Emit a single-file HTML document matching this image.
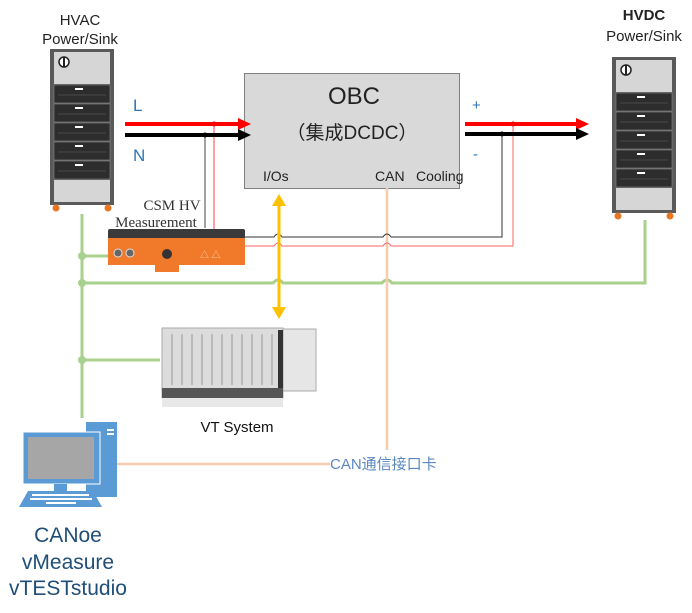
<!DOCTYPE html>
<html><head><meta charset="utf-8"><style>
html,body{margin:0;padding:0;background:#fff;}
svg{display:block;}
text{font-family:"Liberation Sans","Noto Sans CJK SC",sans-serif;}
</style></head><body>
<svg width="692" height="613" viewBox="0 0 692 613" xmlns="http://www.w3.org/2000/svg">
<defs>
<g id="rack">
  <rect x="0" y="0" width="64" height="156" fill="#5a5a5a"/>
  <rect x="4" y="3" width="56" height="32" fill="#d6d6d6"/>
  <circle cx="14" cy="13" r="5" fill="#fff" stroke="#222" stroke-width="1.5"/>
  <line x1="14" y1="8" x2="14" y2="18" stroke="#222" stroke-width="2"/>
  <g fill="#2d2d2d" stroke="#888" stroke-width="0.6">
    <rect x="4" y="36" width="56" height="18"/>
    <rect x="4" y="55" width="56" height="18"/>
    <rect x="4" y="74" width="56" height="18"/>
    <rect x="4" y="93" width="56" height="18"/>
    <rect x="4" y="112" width="56" height="18"/>
  </g>
  <g fill="#fff"><rect x="25" y="39" width="8" height="2"/><rect x="25" y="58" width="8" height="2"/><rect x="25" y="77" width="8" height="2"/><rect x="25" y="96" width="8" height="2"/><rect x="25" y="115" width="8" height="2"/></g>
  <g stroke="#666" stroke-width="0.6"><line x1="8" y1="46" x2="56" y2="46"/><line x1="8" y1="65" x2="56" y2="65"/><line x1="8" y1="84" x2="56" y2="84"/><line x1="8" y1="103" x2="56" y2="103"/><line x1="8" y1="122" x2="56" y2="122"/></g>
  <rect x="4" y="131" width="56" height="22" fill="#d6d6d6"/>
  <circle cx="6" cy="159" r="3.5" fill="#e87722"/>
  <circle cx="58" cy="159" r="3.5" fill="#e87722"/>
</g>
</defs>

<!-- HVAC -->
<text x="80" y="25" font-size="15" text-anchor="middle" fill="#222">HVAC</text>
<text x="80" y="44" font-size="15" text-anchor="middle" fill="#222">Power/Sink</text>
<use href="#rack" x="50" y="49"/>

<!-- HVDC -->
<text x="644" y="20" font-size="15" font-weight="bold" text-anchor="middle" fill="#222">HVDC</text>
<text x="644" y="41" font-size="15" text-anchor="middle" fill="#222">Power/Sink</text>
<use href="#rack" x="612" y="57"/>

<!-- OBC -->
<rect x="244.5" y="73.5" width="215" height="115" fill="#d9d9d9" stroke="#808080"/>
<text x="354" y="104" font-size="24" text-anchor="middle" fill="#222">OBC</text>
<text x="352" y="139" font-size="19" text-anchor="middle" fill="#222">（集成DCDC）</text>
<text x="263" y="181" font-size="14" fill="#222">I/Os</text>
<text x="375" y="181" font-size="14" fill="#222">CAN</text>
<text x="416" y="181" font-size="14" fill="#222">Cooling</text>

<!-- green lines -->
<g stroke="#a9d18e" stroke-width="3" fill="none">
  <line x1="82" y1="214" x2="82" y2="418"/>
  <line x1="82" y1="256" x2="108" y2="256"/>
  <path d="M82 283 H273 q5 -6 10 0 H382 q5 -6 10 0 H645 V220"/>
  <line x1="82" y1="360" x2="160" y2="360"/>
</g>
<g fill="#a9d18e"><circle cx="82" cy="256" r="4"/><circle cx="82" cy="283" r="4"/><circle cx="82" cy="360" r="4"/></g>

<!-- CAN line -->
<g stroke="#f8cbad" stroke-width="2.5" fill="none">
  <line x1="387" y1="188" x2="387" y2="450"/>
  <line x1="117" y1="464" x2="330" y2="464"/>
</g>
<text x="330" y="469" font-size="15" fill="#5b87c0">CAN通信接口卡</text>

<!-- measurement wires -->
<g fill="none" stroke-width="1">
  <path d="M205 135 V228" stroke="#444"/>
  <path d="M214 124 V230" stroke="#ff4040"/>
  <path d="M244 237 H274 q4 -6 8 0 H383 q4 -6 8 0 H502 V134" stroke="#333"/>
  <path d="M244 246 H274 q4 -6 8 0 H383 q4 -6 8 0 H513 V124" stroke="#ff6060"/>
</g>

<!-- L N power -->
<line x1="125" y1="124" x2="240" y2="124" stroke="#ff0000" stroke-width="4"/>
<polygon points="238,118 251,124 238,130" fill="#ff0000"/>
<line x1="125" y1="135" x2="240" y2="135" stroke="#000" stroke-width="4"/>
<polygon points="238,129 251,135 238,141" fill="#000"/>
<circle cx="214" cy="124" r="2.5" fill="#ff0000"/>
<circle cx="205" cy="135" r="2.5" fill="#000"/>
<text x="133" y="111" font-size="17" fill="#2e75b6">L</text>
<text x="133" y="161" font-size="17" fill="#2e75b6">N</text>

<!-- DC -->
<line x1="465" y1="124" x2="578" y2="124" stroke="#ff0000" stroke-width="4"/>
<polygon points="576,118 589,124 576,130" fill="#ff0000"/>
<line x1="465" y1="134" x2="578" y2="134" stroke="#000" stroke-width="4"/>
<polygon points="576,128 589,134 576,140" fill="#000"/>
<circle cx="513" cy="124" r="2.5" fill="#ff0000"/>
<circle cx="502" cy="134" r="2.5" fill="#000"/>
<text x="472" y="110" font-size="15" fill="#2e75b6">+</text>
<text x="473" y="159" font-size="15" fill="#2e75b6">-</text>

<!-- CSM -->
<text x="172" y="210" font-size="15" text-anchor="middle" fill="#333" style="font-family:'Liberation Serif',serif">CSM HV</text>
<text x="156" y="227" font-size="15" text-anchor="middle" fill="#333" style="font-family:'Liberation Serif',serif">Measurement</text>
<rect x="108" y="229" width="137" height="10" rx="2" fill="#3a3a3a"/>
<rect x="108" y="238" width="137" height="27" fill="#f07a2a"/>
<rect x="155" y="240" width="24" height="32" fill="#f07a2a"/>
<circle cx="167" cy="254" r="5" fill="#333"/>
<circle cx="118" cy="253" r="4" fill="#666" stroke="#ddd"/>
<circle cx="130" cy="253" r="4" fill="#666" stroke="#ddd"/>
<text x="200" y="258" font-size="9" fill="#fbd3b0">△ △</text>

<!-- yellow -->
<line x1="279" y1="203" x2="279" y2="310" stroke="#ffc000" stroke-width="3"/>
<polygon points="272,206 279,194 286,206" fill="#ffc000"/>
<polygon points="272,307 279,319 286,307" fill="#ffc000"/>

<!-- VT System -->
<rect x="162" y="328" width="121" height="70" fill="#dcdcdc" stroke="#aaa"/>
<rect x="283" y="329" width="33" height="62" fill="#e6e6e6" stroke="#aaa"/>
<rect x="278" y="330" width="5" height="60" fill="#333"/>
<g stroke="#888" stroke-width="0.8">
  <line x1="172" y1="334" x2="172" y2="385"/><line x1="182" y1="334" x2="182" y2="385"/>
  <line x1="192" y1="334" x2="192" y2="385"/><line x1="202" y1="334" x2="202" y2="385"/>
  <line x1="212" y1="334" x2="212" y2="385"/><line x1="222" y1="334" x2="222" y2="385"/>
  <line x1="232" y1="334" x2="232" y2="385"/><line x1="242" y1="334" x2="242" y2="385"/>
  <line x1="252" y1="334" x2="252" y2="385"/><line x1="262" y1="334" x2="262" y2="385"/>
  <line x1="272" y1="334" x2="272" y2="385"/>
</g>
<rect x="162" y="388" width="121" height="10" fill="#555"/>
<rect x="162" y="398" width="121" height="9" fill="#e8e8e8"/>
<text x="237" y="432" font-size="15" text-anchor="middle" fill="#111">VT System</text>

<!-- PC -->
<rect x="86" y="422" width="31" height="75" fill="#5b9bd5"/>
<rect x="107" y="429" width="7" height="2" fill="#fff"/><rect x="107" y="433" width="7" height="2" fill="#fff"/>
<rect x="23" y="432" width="77" height="52" fill="#5b9bd5" stroke="#fff" stroke-width="1"/>
<rect x="28" y="437" width="66" height="42" fill="#a6a6a6"/>
<rect x="54" y="484" width="13" height="7" fill="#5b9bd5"/>
<polygon points="28,491 93,491 102,507 19,507" fill="#5b9bd5"/>
<g fill="#fff"><rect x="32" y="494" width="57" height="2"/><rect x="30" y="498" width="62" height="2"/><rect x="46" y="502" width="30" height="2"/></g>

<text x="68" y="542" font-size="21" text-anchor="middle" fill="#1f4e79">CANoe</text>
<text x="68" y="569" font-size="21" text-anchor="middle" fill="#1f4e79">vMeasure</text>
<text x="68" y="595" font-size="21" text-anchor="middle" fill="#1f4e79">vTESTstudio</text>
</svg>
</body></html>
